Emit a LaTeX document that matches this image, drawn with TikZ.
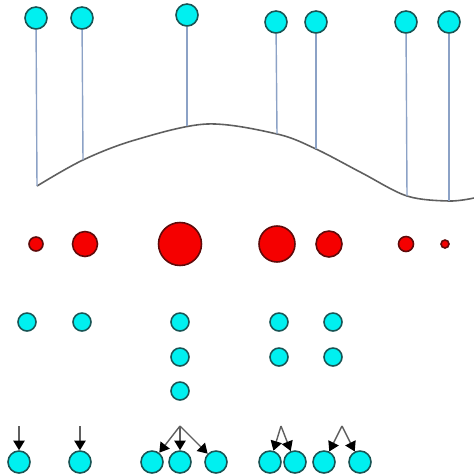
\documentclass[tikz,border=0pt]{standalone}
\usepackage{tikz}
\usetikzlibrary{arrows.meta}
\definecolor{ballfill}{RGB}{0,240,240}
\definecolor{balledge}{RGB}{25,85,85}
\definecolor{redfill}{RGB}{245,0,0}
\definecolor{rededge}{RGB}{95,10,10}
\definecolor{stemcol}{RGB}{140,162,198}
\definecolor{curvecol}{RGB}{95,95,95}
\begin{document}
\begin{tikzpicture}[
    x=0.02cm, y=-0.02cm,
    ball/.style={circle, draw=balledge, fill=ballfill, line width=0.9pt, inner sep=0pt, minimum size=0.44cm},
    smallball/.style={ball, minimum size=0.36cm},
    redball/.style={circle, draw=rededge, fill=redfill, line width=0.9pt, inner sep=0pt},
    stem/.style={draw=stemcol, line width=0.8pt},
    arrow/.style={-{Triangle[width=6.5pt,length=5.5pt,color=black]}, draw=curvecol, line width=0.8pt}
]
\useasboundingbox (0,0) rectangle (474,474);

% Curve points
\coordinate (c1) at (37,186);
\coordinate (c2) at (83,160);
\coordinate (c3) at (187,126);
\coordinate (c4) at (277,134);
\coordinate (c5) at (316,149);
\coordinate (c6) at (407,196);
\coordinate (c7) at (449,201);
\draw[curvecol, line width=0.9pt] plot[smooth, tension=0.55] coordinates {(c1) (c2) (135,140) (207,124) (c4) (c5) (362,173) (c6) (c7) (474,198)};

% Top balls
\node[ball] (top1) at (36,18) {};
\node[ball] (top2) at (82,18) {};
\node[ball] (top3) at (187,15) {};
\node[ball] (top4) at (276,22) {};
\node[ball] (top5) at (316,22) {};
\node[ball] (top6) at (406,22) {};
\node[ball] (top7) at (449,22) {};

% Stems
\draw[stem] (top1) -- (c1);
\draw[stem] (top2) -- (c2);
\draw[stem] (top3) -- (c3);
\draw[stem] (top4) -- (c4);
\draw[stem] (top5) -- (c5);
\draw[stem] (top6) -- (c6);
\draw[stem] (top7) -- (c7);

% Red balls
\node[redball, minimum size=0.28cm] (red1) at (36,244) {};
\node[redball, minimum size=0.5cm] (red2) at (85,244) {};
\node[redball, minimum size=0.86cm] (red3) at (180,244) {};
\node[redball, minimum size=0.72cm] (red4) at (277,244) {};
\node[redball, minimum size=0.52cm] (red5) at (329,244) {};
\node[redball, minimum size=0.3cm] (red6) at (406,244) {};
\node[redball, minimum size=0.16cm] (red7) at (445,244) {};

% Stacks
\node[smallball] (s11) at (27,322) {};
\node[smallball] (s21) at (82,322) {};
\node[smallball] (s31) at (180,322) {};
\node[smallball] (s32) at (180,357) {};
\node[smallball] (s33) at (180,391) {};
\node[smallball] (s41) at (279,322) {};
\node[smallball] (s42) at (279,357) {};
\node[smallball] (s51) at (333,322) {};
\node[smallball] (s52) at (333,357) {};

% Bottom balls
\node[ball] (bot1) at (19,462) {};
\node[ball] (bot2) at (80,462) {};
\node[ball] (bot3) at (152,462) {};
\node[ball] (bot4) at (180,462) {};
\node[ball] (bot5) at (216,462) {};
\node[ball] (bot6) at (270,462) {};
\node[ball] (bot7) at (295,462) {};
\node[ball] (bot8) at (324,462) {};
\node[ball] (bot9) at (360,462) {};

% Forks
\coordinate (f1) at (19,426);
\coordinate (f2) at (80,426);
\coordinate (f3) at (180,426);
\coordinate (f4) at (281,426);
\coordinate (f5) at (342,426);

% Arrows
\draw[arrow] (f1) -- (bot1);
\draw[arrow] (f2) -- (bot2);
\draw[arrow] (f3) -- (bot3);
\draw[arrow] (f3) -- (bot4);
\draw[arrow] (f3) -- (bot5);
\draw[arrow] (f4) -- (bot6);
\draw[arrow] (f4) -- (bot7);
\draw[arrow] (f5) -- (bot8);
\draw[arrow] (f5) -- (bot9);

\end{tikzpicture}
\end{document}
